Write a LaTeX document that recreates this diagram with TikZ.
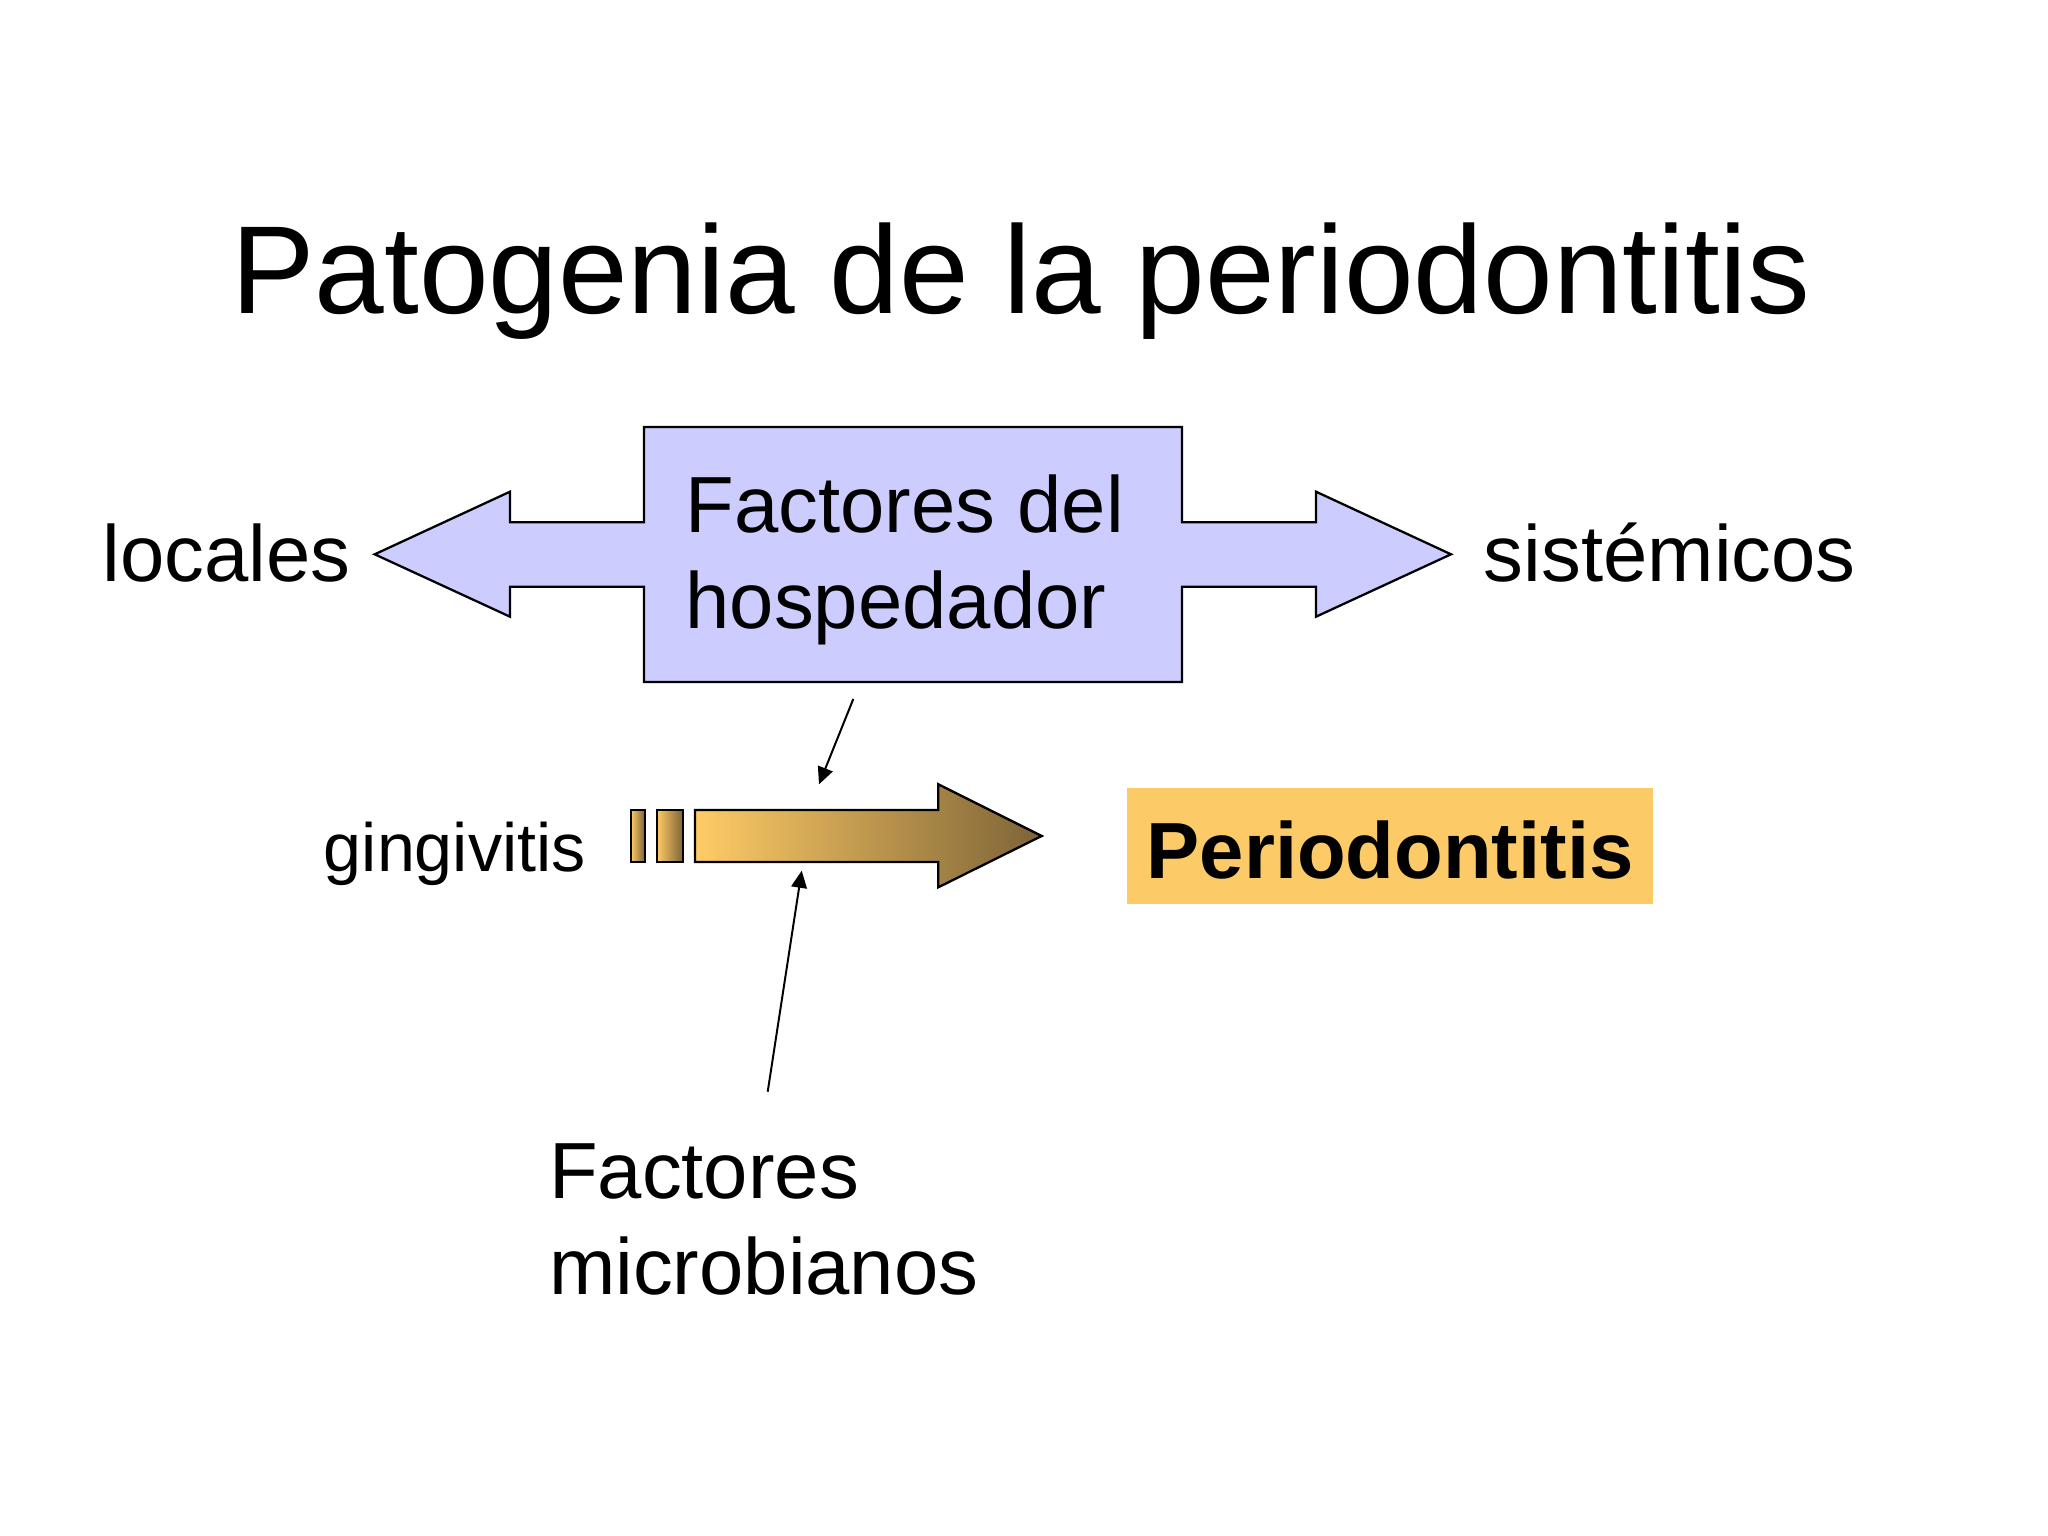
\documentclass[tikz,border=0pt]{standalone}
\usepackage{fontspec}
\setmainfont{Liberation Sans}
\usetikzlibrary{arrows.meta}
\definecolor{lav}{HTML}{CCCCFF}
\definecolor{gold}{HTML}{FFCC66}
\definecolor{bronze}{HTML}{7D6337}
\definecolor{pbox}{HTML}{FDCA68}
\begin{document}
\begin{tikzpicture}[x=0.3515625pt,y=-0.3515625pt,
 outl/.style={draw=black,line width=0.8pt,line join=miter},
 lbl/.style={inner sep=0pt,font=\fontsize{28}{33.6}\selectfont},
 ptr/.style={line width=0.7pt,-{Triangle[length=6pt,width=5.5pt]}},
 gradfill/.style={left color=gold,right color=bronze}]
\useasboundingbox (0,0) rectangle (2048,1536);
\fill[white] (0,0) rectangle (2048,1536);

\node[inner sep=0pt,font=\fontsize{44}{52.8}\selectfont,anchor=base] (title) at (1021,314) {Patogenia de la periodontitis};

% host factors with double arrow
\draw[outl,fill=lav] (644,427) -- (1182,427) -- (1182,522.3) -- (1316,522.3) -- (1316,491.7) -- (1451,554.3) -- (1316,616.7) -- (1316,586.7) -- (1182,586.7) -- (1182,682) -- (644,682) -- (644,586.7) -- (510,586.7) -- (510,616.7) -- (374.7,554.3) -- (510,491.7) -- (510,522.3) -- (644,522.3) -- cycle;
\node[lbl,align=left,anchor=base west] (host) at (685,628.3) {Factores del\\hospedador};

\node[lbl,anchor=base] (locales) at (226.7,581.7) {locales};
\node[lbl,anchor=base] (sist) at (1669.8,581.7) {sistémicos};

% progression arrow
\shadedraw[outl,gradfill] (630.7,810) rectangle (644.7,862);
\shadedraw[outl,gradfill] (656.7,810) rectangle (683,862);
\shadedraw[outl,gradfill] (695,810) -- (938.3,810) -- (938.3,784.3) -- (1041.7,836) -- (938.3,887.3) -- (938.3,862) -- (695,862) -- cycle;

\node[inner sep=0pt,font=\fontsize{24}{28.8}\selectfont,anchor=base] (ging) at (454.8,871.7) {gingivitis};

\node[fill=pbox,inner sep=0pt,minimum width=185.1pt,text height=31.6pt,text depth=9.1pt,font=\bfseries\fontsize{28}{33.6}\selectfont,anchor=base] (perio) at (1390,878.3) {Periodontitis};

% influence arrows
\coordinate (hs) at (853.3,699);
\coordinate (he) at (819,784.3);
\draw[ptr] (hs) -- (he);
\coordinate (ms) at (767.7,1091.7);
\coordinate (me) at (801.7,870.7);
\draw[ptr] (ms) -- (me);

\node[lbl,align=left,anchor=base west] (micro) at (548.5,1294) {Factores\\microbianos};
\end{tikzpicture}
\end{document}
